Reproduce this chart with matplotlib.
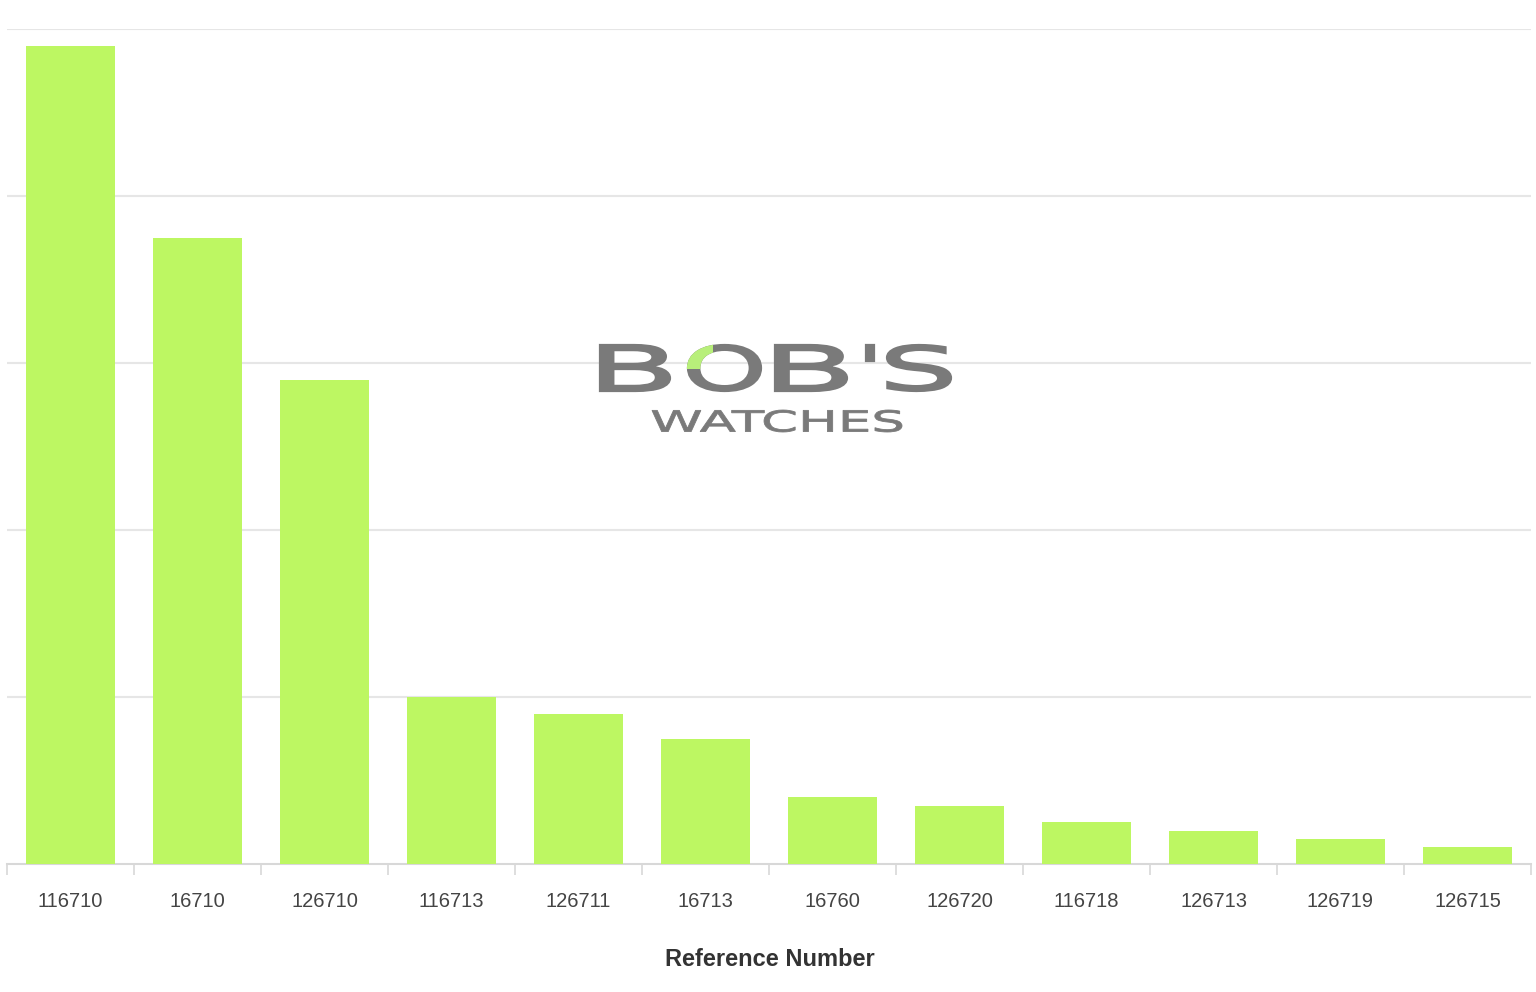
import numpy as np
import matplotlib
matplotlib.use("Agg")
from matplotlib import pyplot as plt
from matplotlib.textpath import TextPath
from matplotlib.font_manager import FontProperties
from matplotlib.patches import PathPatch, Rectangle
from matplotlib.transforms import Affine2D

# data (gridline step = 10)
refs = ['116710', '16710', '126710', '116713', '126711', '16713',
        '16760', '126720', '116718', '126713', '126719', '126715']
counts = [49, 37.5, 29, 10, 9, 7.5, 4, 3.5, 2.5, 2, 1.5, 1]

W, H = 1536, 992
fig = plt.figure(figsize=(W / 100, H / 100), dpi=100)
ax = fig.add_axes([7 / W, 1 - 864 / H, 1524 / W, (864 - 29) / H])

x = np.arange(len(refs))
ax.bar(x, counts, width=0.7, color='#bdf762', zorder=3)

ax.set_xlim(-0.5, len(refs) - 0.5)
ax.set_ylim(0, 50)
ax.set_yticks([10, 20, 30, 40, 50])
ax.yaxis.grid(True, color='#e6e6e6', lw=1.5, zorder=0)
ax.tick_params(axis='y', length=0, labelleft=False)

# ticks sit between categories, labels at centres
ax.set_xticks(np.arange(-0.5, len(refs)), minor=False)
ax.set_xticklabels([])
ax.set_xticks(x, minor=True)
ax.set_xticklabels(refs, minor=True)
ax.tick_params(axis='x', which='major', length=8, width=1.2, color='#d8d8d8')
ax.tick_params(axis='x', which='minor', length=0, pad=20,
               labelsize=14.5, labelcolor='#444444')
for t in ax.get_xticklabels(minor=True):
    t.set_family('Liberation Sans')

for s in ['top', 'right', 'left']:
    ax.spines[s].set_visible(False)
ax.spines['bottom'].set_color('#d8d8d8')
ax.spines['bottom'].set_linewidth(1.5)

fig.text(770 / W, 1 - 959 / H, 'Reference Number', ha='center', va='center',
         fontsize=17, fontweight='bold', color='#333333', family='Liberation Sans')


# watermark logo
def put_text(s, weight, x0, x1, ytop, ybot, color, clip=None, z=5, lw=0):
    fp = FontProperties(family='DejaVu Sans', weight=weight)
    p = TextPath((0, 0), s, size=100, prop=fp)
    ext = p.get_extents()
    sx = (x1 - x0) / ext.width / W
    sy = (ybot - ytop) / ext.height / H
    tr = Affine2D().translate(-ext.x0, -ext.y0).scale(sx, sy) \
        .translate(x0 / W, 1 - ybot / H) + fig.transFigure
    patch = PathPatch(p, transform=tr, facecolor=color, edgecolor=color,
                      lw=lw, zorder=z)
    fig.add_artist(patch)
    if clip is not None:
        patch.set_clip_path(clip)
    return patch


grey = '#7a7a7a'
put_text("B", 'normal', 600, 670, 345, 391, grey, lw=1.6)
put_text("O", 'normal', 688, 761, 345, 391, grey, lw=1.6)
put_text("B", 'normal', 775, 847, 345, 391, grey, lw=1.6)
put_text("'", 'normal', 866, 874, 345, 361, grey, lw=1.6)
put_text("S", 'normal', 887, 951, 345, 391, grey, lw=1.6)
clip = Rectangle((684 / W, 1 - 369 / H), 29 / W, 28 / H, transform=fig.transFigure)
put_text("O", 'normal', 688, 761, 345, 391, '#b8ef7a', clip=clip, z=6, lw=1.6)
put_text("WATCHES", 'normal', 652, 902, 410, 432, grey, lw=0.6)

fig.savefig('out.png', dpi=100, facecolor='white')
